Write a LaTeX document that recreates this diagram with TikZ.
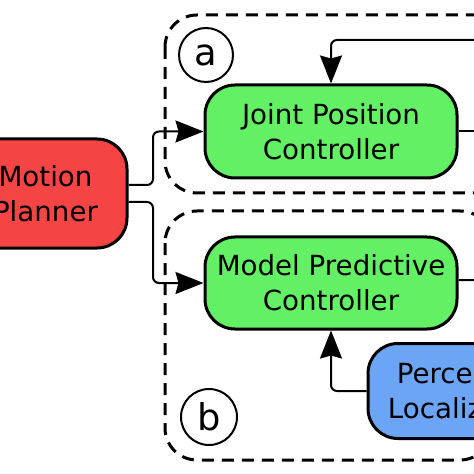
\documentclass[tikz,border=0pt]{standalone}
\usepackage{fontspec}
\setmainfont{DejaVu Sans}
\usetikzlibrary{arrows.meta}
\definecolor{redfill}{RGB}{244,68,68}
\definecolor{greenfill}{RGB}{100,240,100}
\definecolor{bluefill}{RGB}{108,164,246}
\tikzset{
  blk/.style={draw=black, line width=3bp, rounded corners=30bp, align=center,
    font=\fontsize{27.8}{35}\selectfont, inner sep=0pt},
  conn/.style={draw=black, line width=2bp, rounded corners=6bp,
    -{Stealth[length=28bp,width=22bp,inset=3bp]}},
  plain/.style={draw=black, line width=2bp, rounded corners=6bp},
  group/.style={draw=black, line width=3bp, dash pattern=on 12bp off 8bp, rounded corners=32bp},
  tag/.style={draw=black, circle, line width=2bp, inner sep=0pt, font=\fontsize{37}{37}\selectfont}
}
\begin{document}
\begin{tikzpicture}[x=1bp,y=-1bp]
\useasboundingbox (0,0) rectangle (474,474);
\clip (0,0) rectangle (474,474);
% groups
\draw[group] (165,15) rectangle (520,193);
\draw[group] (165,211) rectangle (492,460);
\node[tag, minimum size=54bp] (ta) at (206,55) {a};
\node[tag, minimum size=56bp] (tb) at (209,417) {b};
% nodes
\node[blk, fill=redfill, minimum width=163bp, minimum height=109bp] (mp) at (45.5,193.5) {Motion\\Planner};
\node[blk, fill=greenfill, minimum width=252bp, minimum height=93bp] (jpc) at (331,131.5) {Joint Position\\Controller};
\node[blk, fill=greenfill, minimum width=252bp, minimum height=92bp] (mpc) at (331,283) {Model Predictive\\Controller};
\node[blk, fill=bluefill, minimum width=204bp, minimum height=95bp] (pl) at (470,391) {Perception\\Localization};
\coordinate (fbR) at (480,40);
\coordinate (outA) at (480,131.5);
\coordinate (outB) at (480,280);
% connectors
\draw[conn] ([yshift=8.5bp]mp.east) -| (153,150) |- (jpc.west);
\draw[conn] ([yshift=-8.5bp]mp.east) -| (153,260) |- (mpc.west);
\draw[conn] (fbR) -| (jpc.north);
\draw[conn] (pl.west) -| (mpc.south);
\draw[plain] (jpc.east) -- (outA);
\draw[plain] ([yshift=3bp]mpc.east) -- (outB);
\end{tikzpicture}
\end{document}
